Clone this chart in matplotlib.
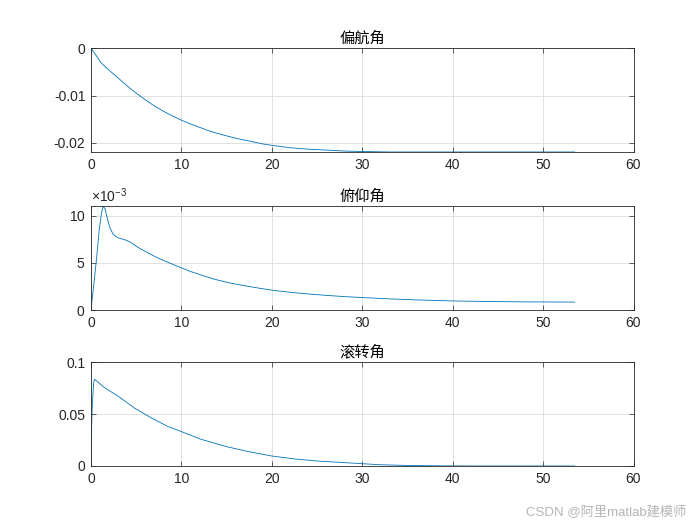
import numpy as np
import matplotlib
matplotlib.use("Agg")
import matplotlib.pyplot as plt
from matplotlib.ticker import ScalarFormatter

plt.rcParams['font.family'] = ['Liberation Sans', 'Noto Sans CJK SC', 'DejaVu Sans']
plt.rcParams['mathtext.fontset'] = 'custom'
plt.rcParams['mathtext.rm'] = 'Liberation Sans'
plt.rcParams['axes.unicode_minus'] = False

# 偏航角
t_yaw = [0, 0.4, 0.8, 1.1, 1.6, 2.2, 3, 4, 5, 6, 7, 8, 9, 10, 11, 12, 13, 14, 15,
         16, 17, 18, 19, 20, 22, 24, 26, 28, 30, 33, 36, 40, 45, 50, 53.5]
yaw = [0, -0.0011, -0.0022, -0.0031, -0.0040, -0.0050, -0.0063, -0.0080, -0.0095,
       -0.0109, -0.0122, -0.0133, -0.0143, -0.0152, -0.0160, -0.0167, -0.0174,
       -0.0180, -0.0185, -0.0190, -0.0194, -0.0198, -0.0202, -0.0205, -0.0210,
       -0.0213, -0.0215, -0.0217, -0.0218, -0.0219, -0.0219, -0.0219, -0.0219,
       -0.0219, -0.0219]

# 俯仰角
t_pitch = [0, 0.3, 0.6, 0.9, 1.15, 1.35, 1.55, 1.85, 2.1, 2.4, 2.7, 3.0, 3.5, 4.0,
           4.5, 5, 5.6, 6.5, 7.4, 8.5, 10, 11, 12.2, 13.5, 15, 16.5, 18, 20, 22,
           24, 26, 28, 30, 33, 36, 40, 44, 48, 53.5]
pitch = [0, 2.6, 5.3, 8.4, 10.2, 11.0, 10.7, 9.5, 8.7, 8.1, 7.8, 7.65, 7.5, 7.35,
         7.1, 6.75, 6.4, 5.95, 5.5, 5.05, 4.46, 4.08, 3.7, 3.3, 2.93, 2.65, 2.4,
         2.1, 1.88, 1.7, 1.55, 1.42, 1.32, 1.18, 1.07, 0.96, 0.9, 0.86, 0.84]
pitch = [p * 1e-3 for p in pitch]

# 滚转角
t_roll = [0, 0.02, 0.15, 0.3, 0.4, 0.8, 1.5, 3.0, 4.8, 6.7, 8.5, 10, 12.2, 15,
          17.5, 20, 22.5, 25, 27.5, 30, 32, 35, 38, 42, 53.5]
roll = [0, 0.025, 0.06, 0.081, 0.0834, 0.0805, 0.0753, 0.0672, 0.0558, 0.0461,
        0.038, 0.0331, 0.0256, 0.0186, 0.0137, 0.0096, 0.0068, 0.0048, 0.0035,
        0.0022, 0.0012, 0.0005, 0.0002, 0.0, 0.0]

titles = ['偏航角', '俯仰角', '滚转角']
series = [(t_yaw, yaw), (t_pitch, pitch), (t_roll, roll)]
ylims = [(-0.0219, 0), (0, 0.011), (0, 0.1)]
yticks = [[-0.02, -0.01, 0], [0, 0.005, 0.01], [0, 0.05, 0.1]]
bottoms = [0.7105, 0.4095, 0.1124]

fig = plt.figure(figsize=(7, 5.25), dpi=100)
dark = '#262626'

for i in range(3):
    ax = fig.add_axes([0.13, bottoms[i], 0.775, 0.198])
    t, v = series[i]
    ax.plot(t, v, color='#0072BD', linewidth=0.6)
    ax.set_xlim(0, 60)
    ax.set_ylim(*ylims[i])
    ax.set_xticks([0, 10, 20, 30, 40, 50, 60])
    ax.set_yticks(yticks[i])
    ax.grid(True, color='#dcdcdc', linewidth=0.6)
    ax.set_axisbelow(True)
    ax.tick_params(direction='in', length=3.5, width=0.5, top=True, right=True,
                   labelsize=10, colors=dark, pad=4)
    for s in ax.spines.values():
        s.set_linewidth(0.6)
        s.set_color(dark)
    ax.set_title(titles[i], fontsize=11, pad=4, color='black')
    if i == 1:
        fmt = ScalarFormatter(useMathText=True)
        fmt.set_powerlimits((-3, -3))
        ax.yaxis.set_major_formatter(fmt)
        ax.yaxis.get_offset_text().set_fontsize(10)
        ax.yaxis.get_offset_text().set_color(dark)
    else:
        ax.set_yticklabels([f'{y:g}' for y in yticks[i]])

fig.text(0.98, 0.025, 'CSDN @阿里matlab建模师', ha='right', va='center',
         fontsize=9.5, color='#b5b5b5')

fig.savefig('out.png', dpi=100)
